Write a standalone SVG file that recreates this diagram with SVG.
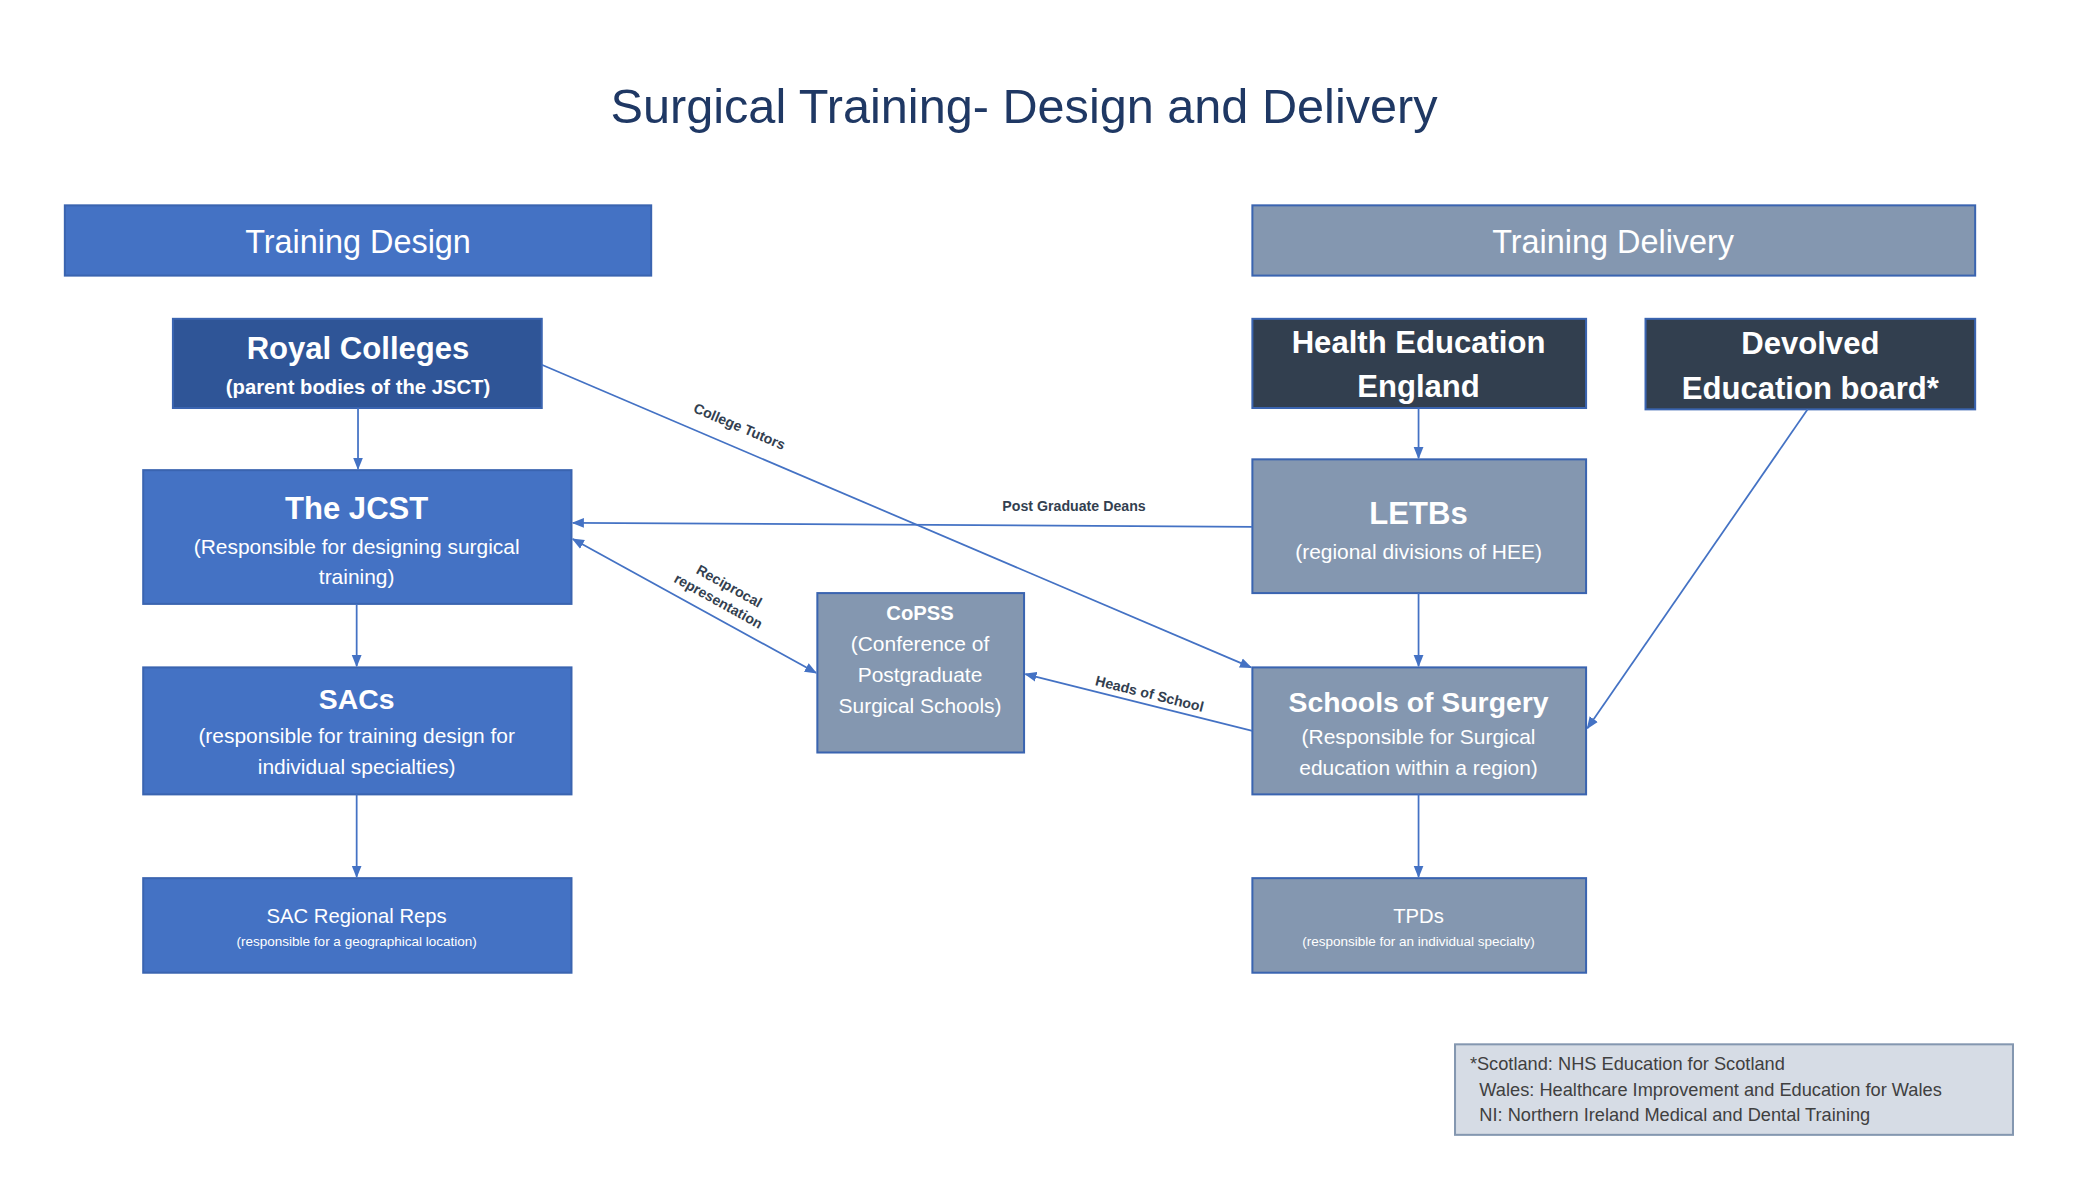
<svg xmlns="http://www.w3.org/2000/svg" width="2094" height="1201" viewBox="0 0 2094 1201">
<defs>
<style>
text{font-family:"Liberation Sans",Arial,sans-serif;text-anchor:middle;fill:#fff}
.b{font-weight:bold}
.blue{fill:#4472c4;stroke:#3a64b0;stroke-width:1.5}
.navy{fill:#2f5597;stroke:#3a64b0;stroke-width:1.5}
.grey{fill:#8497b0;stroke:#3a64b0;stroke-width:1.5}
.dark{fill:#323f4f;stroke:#3a64b0;stroke-width:1.5}
.c{stroke:#4472c4;stroke-width:1.3;fill:none}
.lbl{fill:#333f50;font-weight:bold;font-size:10.5px}
</style>
<marker id="a" viewBox="0 0 10 10" refX="9" refY="5" markerWidth="7" markerHeight="7" orient="auto-start-reverse"><path d="M0,1 L10,5 L0,9 z" fill="#4472c4"/></marker>
</defs>
<rect width="2094" height="1201" fill="#fff"/>
<g transform="scale(1.351)">
<text x="758" y="91" style="font-size:36px;fill:#1f3864">Surgical Training- Design and Delivery</text>
<g id="training-design"><rect class="blue" x="48" y="152" width="434" height="52"/><text x="265" y="187" style="font-size:24px">Training Design</text></g>
<g id="training-delivery"><rect class="grey" x="927" y="152" width="535" height="52"/><text x="1194" y="187" style="font-size:24px">Training Delivery</text></g>
<g id="royal-colleges"><rect class="navy" x="128" y="236" width="273" height="66"/><text class="b" x="265" y="266" style="font-size:23px">Royal Colleges</text><text class="b" x="265" y="292" style="font-size:15px">(parent bodies of the JSCT)</text></g>
<g id="jcst"><rect class="blue" x="106" y="348" width="317" height="99"/><text class="b" x="264" y="384" style="font-size:23px">The JCST</text><text x="264" y="410" style="font-size:15.5px">(Responsible for designing surgical</text><text x="264" y="432" style="font-size:15.5px">training)</text></g>
<g id="sacs"><rect class="blue" x="106" y="494" width="317" height="94"/><text class="b" x="264" y="525" style="font-size:21px">SACs</text><text x="264" y="550" style="font-size:15.5px">(responsible for training design for</text><text x="264" y="573" style="font-size:15.5px">individual specialties)</text></g>
<g id="sac-reps"><rect class="blue" x="106" y="650" width="317" height="70"/><text x="264" y="683" style="font-size:15px">SAC Regional Reps</text><text x="264" y="700" style="font-size:10px">(responsible for a geographical location)</text></g>
<g id="copss"><rect class="grey" x="605" y="439" width="153" height="118"/><text class="b" x="681" y="459" style="font-size:15px">CoPSS</text><text x="681" y="482" style="font-size:15.5px">(Conference of</text><text x="681" y="505" style="font-size:15.5px">Postgraduate</text><text x="681" y="528" style="font-size:15.5px">Surgical Schools)</text></g>
<g id="hee"><rect class="dark" x="927" y="236" width="247" height="66"/><text class="b" x="1050" y="261" style="font-size:23px">Health Education</text><text class="b" x="1050" y="294" style="font-size:23px">England</text></g>
<g id="devolved"><rect class="dark" x="1218" y="236" width="244" height="67"/><text class="b" x="1340" y="262" style="font-size:23px">Devolved</text><text class="b" x="1340" y="295" style="font-size:23px">Education board*</text></g>
<g id="letbs"><rect class="grey" x="927" y="340" width="247" height="99"/><text class="b" x="1050" y="388" style="font-size:23px">LETBs</text><text x="1050" y="414" style="font-size:15.5px">(regional divisions of HEE)</text></g>
<g id="schools"><rect class="grey" x="927" y="494" width="247" height="94"/><text class="b" x="1050" y="527" style="font-size:21px">Schools of Surgery</text><text x="1050" y="551" style="font-size:15.5px">(Responsible for Surgical</text><text x="1050" y="574" style="font-size:15.5px">education within a region)</text></g>
<g id="tpds"><rect class="grey" x="927" y="650" width="247" height="70"/><text x="1050" y="683" style="font-size:15px">TPDs</text><text x="1050" y="700" style="font-size:10px">(responsible for an individual specialty)</text></g>
<g id="footnote"><rect x="1077" y="773" width="413" height="67" fill="#d6dce5" stroke="#8497b0" stroke-width="1.5"/>
<text x="1088" y="792" style="font-size:13.5px;fill:#404040;text-anchor:start">*Scotland: NHS Education for Scotland</text>
<text x="1095" y="811" style="font-size:13.5px;fill:#404040;text-anchor:start">Wales: Healthcare Improvement and Education for Wales</text>
<text x="1095" y="830" style="font-size:13.5px;fill:#404040;text-anchor:start">NI: Northern Ireland Medical and Dental Training</text></g>
<g id="connectors">
<line class="c" x1="265" y1="302" x2="265" y2="347" marker-end="url(#a)"/>
<line class="c" x1="264" y1="447" x2="264" y2="493" marker-end="url(#a)"/>
<line class="c" x1="264" y1="588" x2="264" y2="649" marker-end="url(#a)"/>
<line class="c" x1="1050" y1="302" x2="1050" y2="339" marker-end="url(#a)"/>
<line class="c" x1="1050" y1="439" x2="1050" y2="493" marker-end="url(#a)"/>
<line class="c" x1="1050" y1="588" x2="1050" y2="649" marker-end="url(#a)"/>
<line class="c" x1="927" y1="390" x2="424" y2="387" marker-end="url(#a)"/>
<line class="c" x1="401" y1="270" x2="926" y2="494" marker-end="url(#a)"/>
<line class="c" x1="424" y1="399" x2="604" y2="498" marker-start="url(#a)" marker-end="url(#a)"/>
<line class="c" x1="927" y1="541" x2="759" y2="499" marker-end="url(#a)"/>
<line class="c" x1="1338" y1="303" x2="1175" y2="539" marker-end="url(#a)"/>
<text class="lbl" x="795" y="378">Post Graduate Deans</text>
<text class="lbl" transform="translate(546,319) rotate(23)">College Tutors</text>
<text class="lbl" transform="translate(538,437) rotate(29)">Reciprocal</text>
<text class="lbl" transform="translate(530,448) rotate(29)">representation</text>
<text class="lbl" transform="translate(850,517) rotate(14)">Heads of School</text>
</g>
</g>
</svg>
